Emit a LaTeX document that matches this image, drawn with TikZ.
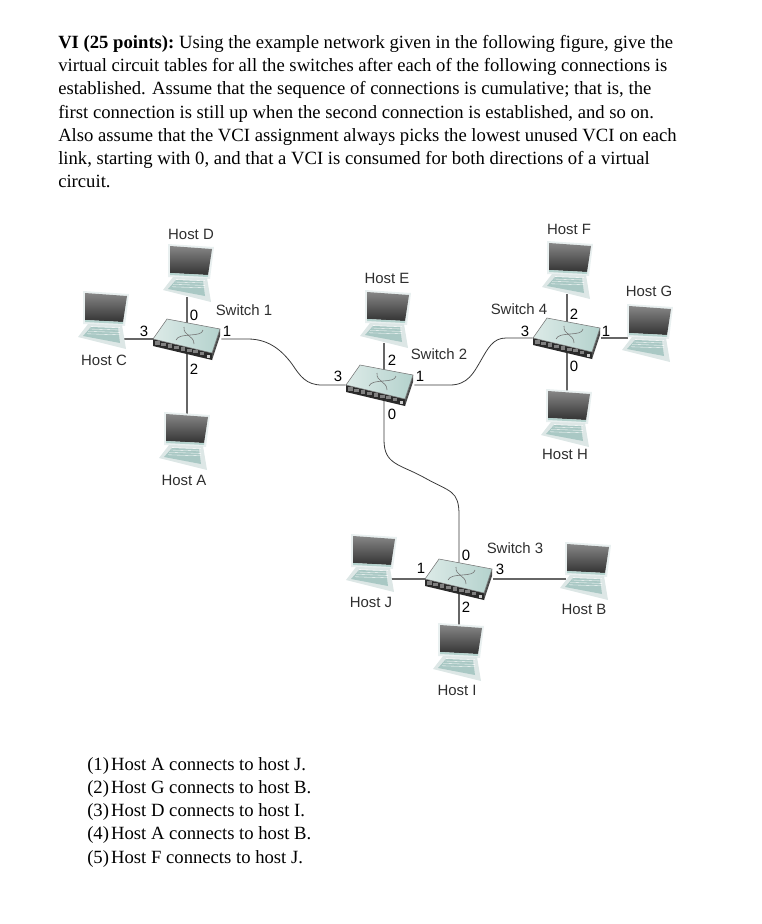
\documentclass[tikz,border=0pt]{standalone}
\usepackage{fontspec}
\setmainfont{Liberation Serif}
\newfontfamily\labelfont{Liberation Sans}
\usetikzlibrary{positioning}
\definecolor{NetLine}{HTML}{666666}
\definecolor{NetWire}{HTML}{3A3A3A}
\definecolor{NetLabel}{HTML}{2E2E2E}
\definecolor{ScreenTop}{HTML}{868686}
\definecolor{ScreenLow}{HTML}{333333}
\definecolor{ScreenRim}{HTML}{E9F0F0}
\definecolor{BasePale}{HTML}{DDE7E6}
\definecolor{KeyTeal}{HTML}{A9C8C4}
\definecolor{TopPale}{HTML}{DCEAE7}
\definecolor{TopTeal}{HTML}{B4D2CD}
\definecolor{PortDark}{HTML}{2A2A2A}
\tikzset{
  hostnode/.style={minimum width=27pt,minimum height=34.5pt,inner sep=0pt},
  switchnode/.style={minimum width=51pt,minimum height=18pt,inner sep=0pt},
  hostlabel/.style={font=\labelfont\fontsize{11.2}{12}\selectfont,text=NetLabel,inner sep=0pt},
  portlabel/.style={font=\labelfont\fontsize{11.2}{12}\selectfont,text=black,inner sep=0pt},
  hostlink/.style={NetLine,line width=0.8pt},
  trunk/.style={NetWire,line width=0.6pt},
  bodytext/.style={anchor=north west,align=left,inner sep=0pt,font=\fontsize{14}{17.4}\selectfont},
  laptop/.pic={
    \fill[ScreenRim] (-19,-30) -- (27,-27) -- (23,5) -- (-19,3) -- cycle;
    \shade[top color=ScreenTop,bottom color=ScreenLow] (-17,-28) -- (25,-25) -- (21,1) -- (-17,-1) -- cycle;
    \fill[TopTeal] (-17,-1) -- (21,1) -- (21,3) -- (-17,1) -- cycle;
    \fill[BasePale] (-24,16) -- (-14,3) -- (20,4) -- (24,28) -- cycle;
    \fill[KeyTeal] (-19,15) -- (-11,6) -- (16,7) -- (18,22) -- cycle;
    \foreach \rowy in {9,12,15,18}
      \draw[white,line width=0.25pt] (-19+\rowy*0.45,{20-\rowy*0.8}) -- (18,{20-\rowy*0.8+1});
  },
  switchbox/.pic={
    \fill[PortDark] (-34,0) -- (25,14) -- (25,21) -- (-34,7) -- cycle;
    \fill[black!70] (25,14) -- (33,-10) -- (33,-3) -- (25,21) -- cycle;
    \shade[left color=TopPale,right color=TopTeal,draw=black!55,line width=0.4pt]
      (-34,0) -- (-20,-20) -- (33,-10) -- (25,14) -- cycle;
    \foreach \portx in {0,...,7}
      \fill[black!50] (-32+\portx*6.4,{2.2+\portx*1.48}) rectangle ++(4.6,3.4);
    \fill[black!20] (20,15.5) rectangle ++(3,3);
    \draw[black!55,line width=0.45pt] (-3,-12) .. controls (-4,-3) and (7,-4) .. (7,5);
    \draw[black!55,line width=0.45pt] (16,-9) .. controls (15,-1) and (-8,-7) .. (-11,1);
  }
}
\begin{document}
\begin{tikzpicture}[x=0.75pt,y=-0.75pt]
  \useasboundingbox (0,0) rectangle (762,924);
  \node[bodytext] (question) at (58,35) {\frenchspacing\textbf{VI (25 points):} Using the example network given in the following figure, give the\\
    virtual circuit tables for all the switches after each of the following connections is\\
    established. Assume that the sequence of connections is cumulative; that is, the\\
    first connection is still up when the second connection is established, and so on.\\
    Also assume that the VCI assignment always picks the lowest unused VCI on each\\
    link, starting with 0, and that a VCI is consumed for both directions of a virtual\\
    circuit.};
  \node[bodytext] (tasks) at (87,757) {(1)\hspace{1.6pt}Host A connects to host J.\\
    (2)\hspace{1.6pt}Host G connects to host B.\\
    (3)\hspace{1.6pt}Host D connects to host I.\\
    (4)\hspace{1.6pt}Host A connects to host B.\\
    (5)\hspace{1.6pt}Host F connects to host J.};
  % switches and hosts
  \node[switchnode] (sw1) at (187,339) {};
  \node[switchnode] (sw2) at (380,385) {};
  \node[switchnode] (sw3) at (459,579) {};
  \node[switchnode] (sw4) at (567,338) {};
  \node[hostnode] (hostA) at (183,442) {};
  \node[hostnode] (hostB) at (584,572) {};
  \node[hostnode] (hostC) at (102,321) {};
  \node[hostnode] (hostD) at (187,274) {};
  \node[hostnode] (hostE) at (384,320) {};
  \node[hostnode] (hostF) at (566,271) {};
  \node[hostnode] (hostG) at (646,334) {};
  \node[hostnode] (hostH) at (565,419) {};
  \node[hostnode] (hostI) at (457,653) {};
  \node[hostnode] (hostJ) at (370,564) {};
  % host links
  \draw[hostlink] (hostD.south -| sw1.north) -- (sw1.north);
  \draw[hostlink] (sw1.south) -- (hostA.north -| sw1.south);
  \draw[hostlink] (hostC.east |- sw1.west) -- (sw1.west);
  \draw[hostlink] (hostE.south) -- (hostE.south |- sw2.north);
  \draw[hostlink] (hostF.south -| sw4.north) -- (sw4.north);
  \draw[hostlink] (sw4.east) -- (hostG.west |- sw4.east);
  \draw[hostlink] (sw4.south) -- (hostH.north -| sw4.south);
  \draw[hostlink] (hostJ.east |- sw3.west) -- (sw3.west);
  \draw[hostlink] (sw3.east) -- (hostB.west |- sw3.east);
  \draw[hostlink] (sw3.south) -- (hostI.north -| sw3.south);
  % trunks
  \draw[trunk] (sw1.east) -- (248,339) .. controls (270,339) and (283,352) .. (292,364)
    .. controls (300,376) and (306,385) .. (322,385) -- (sw2.west);
  \draw[trunk] (sw2.east) -- (450,385) .. controls (468,385) and (474,372) .. (480,362)
    .. controls (488,348) and (493,338) .. (506,338) -- (sw4.west);
  \draw[trunk] (hostE.south |- sw2.south) -- (384,440) .. controls (384,465) and (400,464) .. (425,478)
    .. controls (450,492) and (459,490) .. (459,515) -- (sw3.north);
  % drawings on top
  \foreach \hostname in {hostA,hostB,hostC,hostD,hostE,hostF,hostG,hostH,hostI,hostJ}
    \pic at (\hostname) {laptop};
  \foreach \swname in {sw1,sw2,sw3,sw4}
    \pic at (\swname) {switchbox};
  % labels
  \node[hostlabel] (lblA) at (184,480) {Host A};
  \node[hostlabel] (lblB) at (584,609) {Host B};
  \node[hostlabel] (lblC) at (104,360) {Host C};
  \node[hostlabel] (lblD) at (191,234) {Host D};
  \node[hostlabel] (lblE) at (387,278) {Host E};
  \node[hostlabel] (lblF) at (569,229) {Host F};
  \node[hostlabel] (lblG) at (649,291) {Host G};
  \node[hostlabel] (lblH) at (565,454) {Host H};
  \node[hostlabel] (lblI) at (457,690) {Host I};
  \node[hostlabel] (lblJ) at (371,602) {Host J};
  \node[hostlabel] (lblsw1) at (244,310) {Switch 1};
  \node[hostlabel] (lblsw2) at (439,354) {Switch 2};
  \node[hostlabel] (lblsw3) at (515,548) {Switch 3};
  \node[hostlabel] (lblsw4) at (519,309) {Switch 4};
  \node[portlabel] (pa0) at (194,315) {0};
  \node[portlabel] (pa1) at (227,331) {1};
  \node[portlabel] (pa2) at (194,369) {2};
  \node[portlabel] (pa3) at (144,331) {3};
  \node[portlabel] (pb0) at (392,414) {0};
  \node[portlabel] (pb1) at (420,376) {1};
  \node[portlabel] (pb2) at (392,360) {2};
  \node[portlabel] (pb3) at (338,376) {3};
  \node[portlabel] (pc0) at (466,555) {0};
  \node[portlabel] (pc1) at (421,568) {1};
  \node[portlabel] (pc2) at (466,607) {2};
  \node[portlabel] (pc3) at (500,569) {3};
  \node[portlabel] (pd0) at (574,366) {0};
  \node[portlabel] (pd1) at (606,331) {1};
  \node[portlabel] (pd2) at (574,314) {2};
  \node[portlabel] (pd3) at (525,331) {3};
\end{tikzpicture}
\end{document}
